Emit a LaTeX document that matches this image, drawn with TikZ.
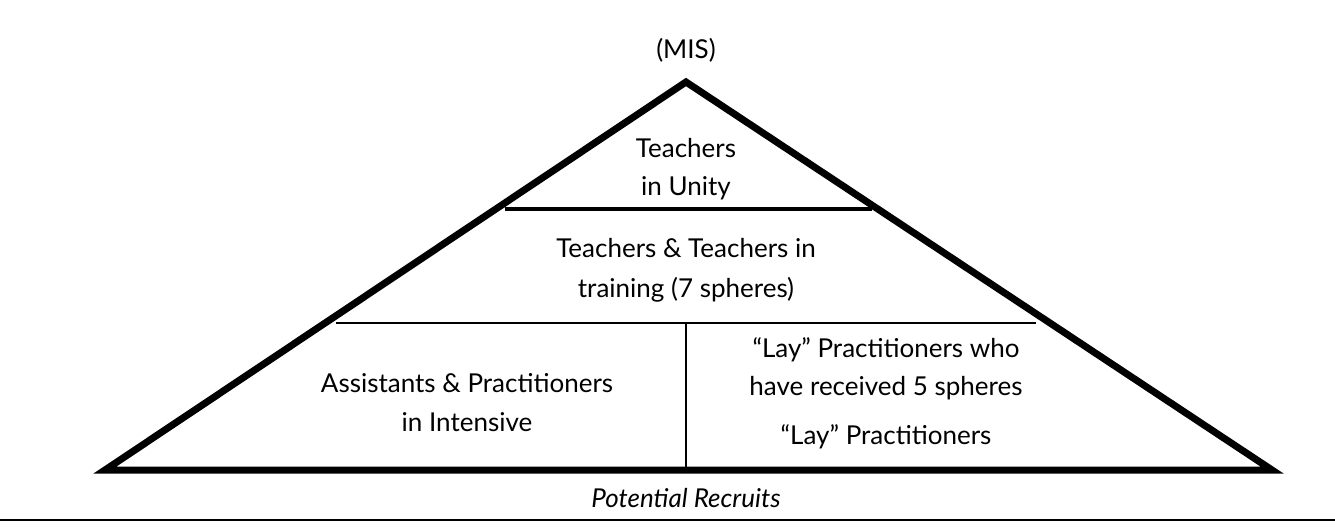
\documentclass[tikz,border=0pt]{standalone}
\usepackage{fontspec}
\setmainfont{Lato}
\begin{document}
\begin{tikzpicture}[x=1pt,y=-1pt,
  lbl/.style={font=\fontsize{26}{30}\selectfont, inner sep=0pt, anchor=center}]
\useasboundingbox (0,0) rectangle (1335,527);
\coordinate (apex) at (686,82);
\coordinate (bl) at (105,470);
\coordinate (br) at (1272,470);
\draw[line width=7pt, line join=miter] (bl) -- (apex) -- (br) -- cycle;
\coordinate (t1l) at (505,209); \coordinate (t1r) at (872,209);
\draw[line width=4pt] (t1l) -- (t1r);
\coordinate (t2l) at (336,323); \coordinate (t2r) at (1036,323);
\draw[line width=1.5pt] (t2l) -- (t2r);
\coordinate (vt) at (686,323); \coordinate (vb) at (686,470);
\draw[line width=1.5pt] (vt) -- (vb);
\coordinate (gl) at (0,520); \coordinate (gr) at (1335,520);
\draw[line width=1.5pt] (gl) -- (gr);
\node[lbl] (mis) at (686,50) {(MIS)};
\node[lbl] (a1) at (686,148) {Teachers};
\node[lbl] (a2) at (686,188) {in Unity};
\node[lbl] (b1) at (686,248) {Teachers \& Teachers in};
\node[lbl] (b2) at (686,290) {training (7 spheres)};
\node[lbl] (c1) at (467,383) {Assistants \& Practitioners};
\node[lbl] (c2) at (467,422) {in Intensive};
\node[lbl] (d1) at (886,350) {“Lay” Practitioners who};
\node[lbl] (d2) at (886,388) {have received 5 spheres};
\node[lbl] (d3) at (886,437) {“Lay” Practitioners};
\node[lbl, font=\fontsize{26}{30}\selectfont\itshape] (pr) at (686,498) {Potential Recruits};
\end{tikzpicture}
\end{document}
